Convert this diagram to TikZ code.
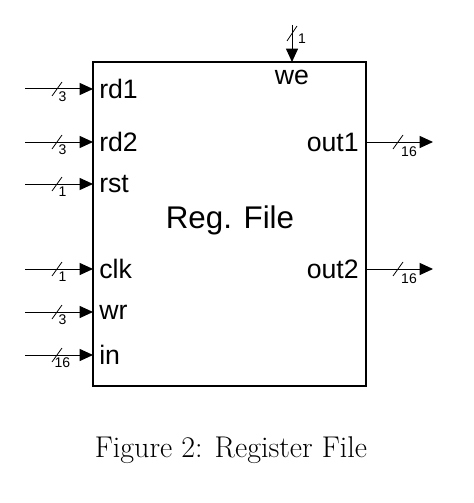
\documentclass[tikz,border=0pt]{standalone}
\usepackage{fontspec}
\newfontfamily\pinfont{Liberation Sans}
\usetikzlibrary{arrows.meta}

\begin{document}
\begin{tikzpicture}[x=0.75pt,y=0.75pt,yscale=-1,xscale=1,
  pin/.style={font=\pinfont\fontsize{20}{23}\selectfont, inner sep=0.75pt},
  wbits/.style={font=\pinfont\fontsize{10.5}{12}\selectfont, inner sep=0.75pt},
  bus/.style={-{Triangle[length=10pt,width=9pt]}, line width=0.75pt},
  slash/.style={line width=0.6pt}]
\useasboundingbox (0,0) rectangle (474,503);

%Shape: Rectangle [register file]
\node (rf) [draw, line width=1.2pt, minimum width=204.75pt, minimum height=243pt, inner sep=0pt] at (229.5,224) {};
% Text Node
\node (rflabel) [font=\pinfont\fontsize{23.5}{27}\selectfont, inner sep=0.75pt, anchor=base] at (230,228) {Reg. File};

%Inputs on the left side
\foreach \y/\n/\w in {89/rd1/3, 142/rd2/3, 184/rst/1, 269/clk/1, 312/wr/3, 355/in/16} {
  \coordinate (src-\n) at (25,\y);
  \coordinate (pin-\n) at (93,\y);
  \draw [bus] (src-\n) -- (pin-\n);
  \draw [slash] (52,\y+7) -- (62,\y-7);
  \node (w-\n) [wbits] at (62.5,\y+8) {\w};
  \node (l-\n) [pin, anchor=west] at (98,\y) {\n};
}

%Outputs on the right side
\foreach \y/\n in {142/out1, 269/out2} {
  \coordinate (pin-\n) at (366,\y);
  \coordinate (dst-\n) at (433,\y);
  \draw [bus] (pin-\n) -- (dst-\n);
  \draw [slash] (393,\y+7) -- (403,\y-7);
  \node (w-\n) [wbits] at (409,\y+10) {16};
  \node (l-\n) [pin, anchor=east] at (360,\y) {\n};
}

%Write enable on top
\coordinate (src-we) at (292,25);
\coordinate (pin-we) at (292,62);
\draw [bus] (src-we) -- (pin-we);
\draw [slash] (287,41) -- (297,26);
\node (w-we) [wbits] at (302,38.5) {1};
\node (l-we) [pin] at (292,77) {we};

% Caption
\node (cap) [font=\fontsize{22.5}{27}\selectfont, inner sep=0pt, anchor=base] at (231,457) {Figure 2: Register File};

\end{tikzpicture}
\end{document}
